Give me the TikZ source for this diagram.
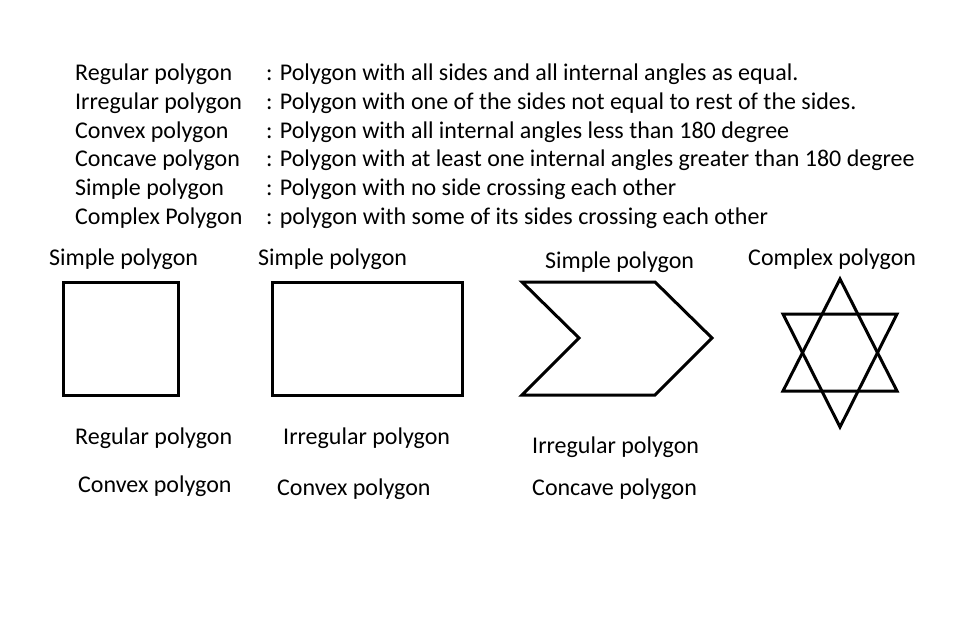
\documentclass[tikz,border=0pt]{standalone}
\usepackage{fontspec}
\setmainfont{Carlito}
\begin{document}
\begin{tikzpicture}[x=1pt,y=-1pt,
  txt/.style={anchor=west,inner sep=0pt,font=\fontsize{24}{29}\selectfont},
  shp/.style={line width=3pt,line join=miter}]
\useasboundingbox (0,0) rectangle (960,630);
% definitions list
\node[txt] (t1) at (75,74) {Regular polygon};
\node[txt] (t2) at (75,103) {Irregular polygon};
\node[txt] (t3) at (75,132) {Convex polygon};
\node[txt] (t4) at (75,160) {Concave polygon};
\node[txt] (t5) at (75,189) {Simple polygon};
\node[txt] (t6) at (75,218) {Complex Polygon};
\node[txt] (d1) at (266,74) {: Polygon with all sides and all internal angles as equal.};
\node[txt] (d2) at (266,103) {: Polygon with one of the sides not equal to rest of the sides.};
\node[txt] (d3) at (266,132) {: Polygon with all internal angles less than 180 degree};
\node[txt] (d4) at (266,160) {: Polygon with at least one internal angles greater than 180 degree};
\node[txt] (d5) at (266,189) {: Polygon with no side crossing each other};
\node[txt] (d6) at (266,218) {: polygon with some of its sides crossing each other};
% headings
\node[txt] (h1) at (49,259) {Simple polygon};
\node[txt] (h2) at (258,259) {Simple polygon};
\node[txt] (h3) at (545,262) {Simple polygon};
\node[txt] (h4) at (748,259) {Complex polygon};
% shapes
\draw[shp] (63,282) rectangle (178,395);
\draw[shp] (272,282) rectangle (462,395);
\draw[shp] (522,282) -- (655,282) -- (712,338) -- (655,395) -- (522,395) -- (579,338) -- cycle;
\draw[shp] (840,279) -- (897,391) -- (783,391) -- cycle;
\draw[shp] (783,314) -- (897,314) -- (840,427) -- cycle;
% captions
\node[txt] (c1) at (75,438) {Regular polygon};
\node[txt] (c2) at (78,486) {Convex polygon};
\node[txt] (c3) at (283,438) {Irregular polygon};
\node[txt] (c4) at (277,489) {Convex polygon};
\node[txt] (c5) at (532,447) {Irregular polygon};
\node[txt] (c6) at (532,489) {Concave polygon};
\end{tikzpicture}
\end{document}
